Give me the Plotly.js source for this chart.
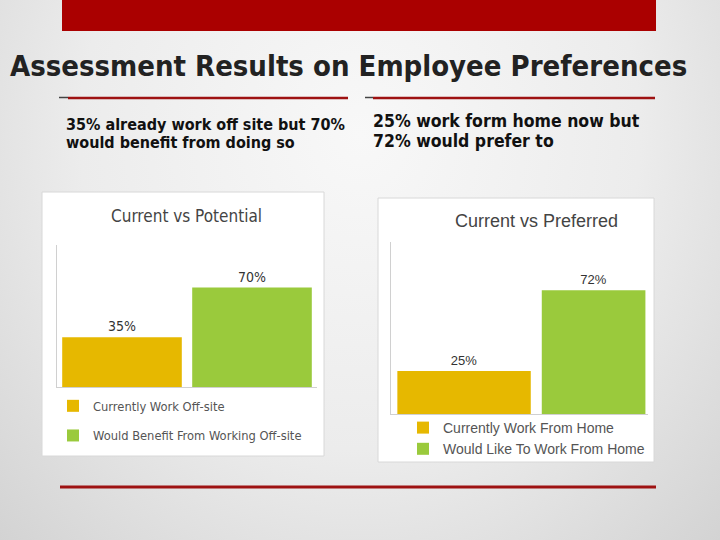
<!DOCTYPE html>
<html>
<head>
<meta charset="utf-8">
<script src="https://cdn.plot.ly/plotly-3.0.1.min.js"></script>
<style>
  html, body { margin: 0; padding: 0; }
  body {
    width: 720px; height: 540px; overflow: hidden;
    background: radial-gradient(ellipse at 50% 25%, #f8f8f8 0%, #ececec 55%, #d3d3d3 100%);
  }
  #slide { width: 720px; height: 540px; }
</style>
</head>
<body>
<div id="slide"></div>
<script>
// chart data
let leftCategories = ['Currently Work Off-site', 'Would Benefit From Working Off-site'];
let leftValues = [35, 70];
let rightCategories = ['Currently Work From Home', 'Would Like To Work From Home'];
let rightValues = [25, 72];
let barColors = ['#e6b800', '#9aca3c'];

let slide = document.getElementById('slide');

// pixel -> paper helpers (720x540, no margins)
function px(x) { return x / 720; }
function py(y) { return 1 - y / 540; }

let narrow = '"DejaVu Sans Condensed", "Liberation Sans Narrow", sans-serif';
let plain = '"Liberation Sans", Arial, sans-serif';

let data = [];

// left chart traces
for (let i = 0; i < leftCategories.length; i++) {
    data.push({
        type: 'bar',
        name: leftCategories[i],
        x: [leftCategories[i]],
        y: [leftValues[i]],
        xaxis: 'x',
        yaxis: 'y',
        legend: 'legend',
        legendgroup: 'left' + i,
        width: 0.92,
        marker: { color: barColors[i] },
        texttemplate: '%{y}%',
        textposition: 'outside',
        textfont: { family: narrow, size: 14, color: '#333' },
        cliponaxis: false,
        hoverinfo: 'skip',
    });
}

// right chart traces
let rightWidths = [1.03, 0.8];
for (let i = 0; i < rightCategories.length; i++) {
    data.push({
        type: 'bar',
        name: rightCategories[i],
        x: [rightCategories[i]],
        y: [rightValues[i]],
        xaxis: 'x2',
        yaxis: 'y2',
        legend: 'legend2',
        legendgroup: 'right' + i,
        width: rightWidths[i],
        marker: { color: barColors[i] },
        texttemplate: '%{y}%',
        textposition: 'outside',
        textfont: { family: plain, size: 13, color: '#333' },
        cliponaxis: false,
        hoverinfo: 'skip',
    });
}

let axisBase = {
    showgrid: false,
    zeroline: false,
    showticklabels: false,
    ticks: '',
    showline: true,
    linecolor: '#d0d0d0',
    linewidth: 1,
    fixedrange: true,
};

let redLine = '#9e1212';

let layout = {
    width: 720,
    height: 540,
    margin: { l: 0, r: 0, t: 0, b: 0 },
    paper_bgcolor: 'rgba(0,0,0,0)',
    plot_bgcolor: 'rgba(0,0,0,0)',
    barmode: 'overlay',
    showlegend: true,
    xaxis: Object.assign({}, axisBase, {
        type: 'category',
        domain: [px(57), px(317)],
        range: [-0.5, 1.5],
        anchor: 'y',
    }),
    yaxis: Object.assign({}, axisBase, {
        domain: [py(387), py(245)],
        range: [0, 100],
        anchor: 'x',
    }),
    xaxis2: Object.assign({}, axisBase, {
        type: 'category',
        domain: [px(391), px(648)],
        range: [-0.564, 1.42],
        anchor: 'y2',
    }),
    yaxis2: Object.assign({}, axisBase, {
        domain: [py(414), py(242)],
        range: [0, 100],
        anchor: 'x2',
    }),
    legend: {
        x: px(53), y: py(391), xanchor: 'left', yanchor: 'top',
        bgcolor: 'rgba(0,0,0,0)',
        font: { family: narrow, size: 12.8, color: '#555' },
        tracegroupgap: 10,
        traceorder: 'grouped',
    },
    legend2: {
        x: px(403), y: py(412), xanchor: 'left', yanchor: 'top',
        bgcolor: 'rgba(0,0,0,0)',
        font: { family: plain, size: 14, color: '#555' },
        tracegroupgap: 0,
        traceorder: 'grouped',
    },
    shapes: [
        // top red band
        { type: 'rect', xref: 'paper', yref: 'paper', layer: 'below',
          x0: px(62), x1: px(656), y0: py(31), y1: py(-2),
          fillcolor: '#aa0000', line: { width: 0 } },
        // red rules under the title
        { type: 'line', xref: 'paper', yref: 'paper', layer: 'below',
          x0: px(68), x1: px(348), y0: py(98), y1: py(98),
          line: { color: redLine, width: 2.5 } },
        { type: 'line', xref: 'paper', yref: 'paper', layer: 'below',
          x0: px(59), x1: px(68), y0: py(97.5), y1: py(97.5),
          line: { color: '#444', width: 1.5 } },
        { type: 'line', xref: 'paper', yref: 'paper', layer: 'below',
          x0: px(373), x1: px(655), y0: py(98), y1: py(98),
          line: { color: redLine, width: 2.5 } },
        { type: 'line', xref: 'paper', yref: 'paper', layer: 'below',
          x0: px(365), x1: px(373), y0: py(97.5), y1: py(97.5),
          line: { color: '#444', width: 1.5 } },
        // bottom rule
        { type: 'line', xref: 'paper', yref: 'paper', layer: 'below',
          x0: px(60), x1: px(656), y0: py(487), y1: py(487),
          line: { color: redLine, width: 3 } },
        // chart cards
        { type: 'rect', xref: 'paper', yref: 'paper', layer: 'below',
          x0: px(42), x1: px(324), y0: py(456), y1: py(192),
          fillcolor: '#ffffff', line: { color: '#d8d8d8', width: 1 } },
        { type: 'rect', xref: 'paper', yref: 'paper', layer: 'below',
          x0: px(378), x1: px(654), y0: py(462), y1: py(198),
          fillcolor: '#ffffff', line: { color: '#d8d8d8', width: 1 } },
    ],
    annotations: [
        { text: 'Assessment Results on Employee Preferences',
          xref: 'paper', yref: 'paper', x: px(348), y: py(66),
          xanchor: 'center', yanchor: 'middle', showarrow: false,
          font: { family: narrow, size: 29, weight: 'bold', color: '#222' } },
        { text: '35% already work off site but 70%',
          xref: 'paper', yref: 'paper', x: px(64), y: py(124),
          xanchor: 'left', yanchor: 'middle', showarrow: false,
          font: { family: narrow, size: 16, weight: 'bold', color: '#111' } },
        { text: 'would benefit from doing so',
          xref: 'paper', yref: 'paper', x: px(64), y: py(142),
          xanchor: 'left', yanchor: 'middle', showarrow: false,
          font: { family: narrow, size: 16, weight: 'bold', color: '#111' } },
        { text: '25% work form home now but',
          xref: 'paper', yref: 'paper', x: px(371), y: py(121),
          xanchor: 'left', yanchor: 'middle', showarrow: false,
          font: { family: narrow, size: 17.5, weight: 'bold', color: '#111' } },
        { text: '72% would prefer to',
          xref: 'paper', yref: 'paper', x: px(371), y: py(141),
          xanchor: 'left', yanchor: 'middle', showarrow: false,
          font: { family: narrow, size: 17.5, weight: 'bold', color: '#111' } },
        { text: 'Current vs Potential',
          xref: 'paper', yref: 'paper', x: px(186), y: py(216),
          xanchor: 'center', yanchor: 'middle', showarrow: false,
          font: { family: narrow, size: 17, color: '#444' } },
        { text: 'Current vs Preferred',
          xref: 'paper', yref: 'paper', x: px(536), y: py(221),
          xanchor: 'center', yanchor: 'middle', showarrow: false,
          font: { family: plain, size: 18, color: '#444' } },
    ],
};

Plotly.newPlot(slide, data, layout, { staticPlot: true, displayModeBar: false });
</script>
</body>
</html>
